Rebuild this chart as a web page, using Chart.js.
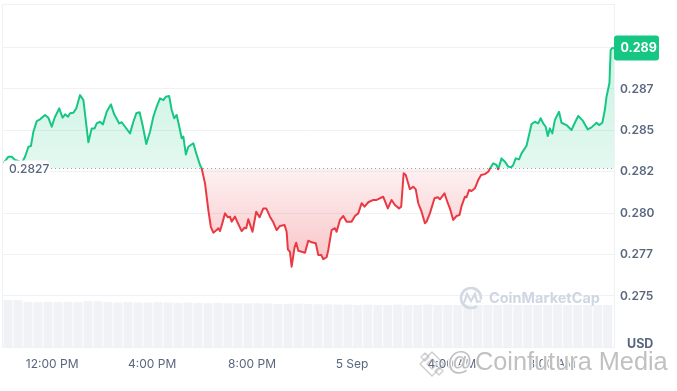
<!DOCTYPE html>
<html>
<head>
<meta charset="utf-8">
<script src="https://cdn.jsdelivr.net/npm/chart.js@4.4.0/dist/chart.umd.min.js"></script>
<style>
  html, body { margin: 0; padding: 0; background: #fff; }
  canvas { display: block; }
</style>
</head>
<body>
<canvas id="chart" width="677" height="391"></canvas>
<script>
// time in minutes from 12:00 PM (4 Sep), price in USD
const minutes = [
  -117, -105, -97, -89, -81, -73, -65, -57, -51, -45,
  -37, -29, -17, -9, -1, 6, 17, 25, 31, 38,
  43, 51, 58, 67, 75, 87, 95, 102, 107, 115,
  122, 131, 141, 149, 161, 167, 175, 187, 195, 202,
  210, 218, 226, 235, 243, 251, 259, 267, 273, 281,
  287, 293, 299, 307, 311, 315, 321, 327, 339, 346,
  355, 359, 367, 375, 381, 387, 395, 399, 403, 409,
  415, 422, 427, 431, 439, 446, 455, 462, 466, 471,
  481, 490, 498, 507, 514, 523, 531, 539, 547, 558,
  563, 566, 571, 575, 582, 586, 591, 599, 607, 615,
  623, 633, 639, 646, 651, 659, 663, 671, 679, 683,
  691, 699, 707, 719, 727, 735, 743, 750, 759, 771,
  779, 787, 795, 806, 815, 823, 833, 838, 844, 849,
  859, 867, 873, 879, 887, 895, 899, 907, 918, 926,
  931, 942, 950, 955, 963, 971, 978, 983, 991, 995,
  1001, 1007, 1015, 1023, 1030, 1039, 1047, 1053, 1059, 1067,
  1071, 1079, 1087, 1095, 1102, 1107, 1113, 1121, 1127, 1139,
  1145, 1151, 1159, 1167, 1173, 1179, 1185, 1190, 1195, 1201,
  1207, 1217, 1223, 1235, 1247, 1255, 1263, 1273, 1286, 1295,
  1307, 1313, 1321, 1327, 1331, 1338, 1341, 1344, 1349
];
const prices = [
  0.28301, 0.28341, 0.28341, 0.28321, 0.28315, 0.28303, 0.28341, 0.28401, 0.28405, 0.28492,
  0.28556, 0.28567, 0.28593, 0.28576, 0.28522, 0.28576, 0.28633, 0.28576, 0.28597, 0.28582,
  0.28603, 0.28606, 0.28633, 0.28713, 0.28683, 0.28428, 0.28512, 0.28512, 0.28542, 0.28552,
  0.28536, 0.28612, 0.28657, 0.28597, 0.28542, 0.28549, 0.28522, 0.28482, 0.28552, 0.28603,
  0.28609, 0.28522, 0.28418, 0.28492, 0.28582, 0.28643, 0.28693, 0.28683, 0.28703, 0.28707,
  0.28623, 0.28573, 0.28593, 0.28502, 0.28452, 0.28462, 0.28355, 0.28401, 0.28422, 0.28361,
  0.28291, 0.28271, 0.28180, 0.28019, 0.27918, 0.27882, 0.27898, 0.27909, 0.27892, 0.27943,
  0.27999, 0.27975, 0.27979, 0.27949, 0.27979, 0.27939, 0.27892, 0.27912, 0.27909, 0.27963,
  0.27888, 0.28009, 0.27975, 0.28029, 0.28029, 0.27979, 0.27945, 0.27898, 0.27923, 0.27929,
  0.27888, 0.27782, 0.27767, 0.27677, 0.27794, 0.27822, 0.27773, 0.27767, 0.27761, 0.27834,
  0.27824, 0.27818, 0.27748, 0.27748, 0.27722, 0.27734, 0.27778, 0.27898, 0.27909, 0.27888,
  0.27959, 0.27983, 0.27949, 0.27949, 0.27983, 0.27999, 0.28060, 0.28039, 0.28066, 0.28080,
  0.28080, 0.28090, 0.28099, 0.28029, 0.28080, 0.28049, 0.28029, 0.28039, 0.28241, 0.28230,
  0.28144, 0.28160, 0.28144, 0.28060, 0.28009, 0.27939, 0.27949, 0.27999, 0.28090, 0.28096,
  0.28084, 0.28120, 0.28060, 0.28029, 0.27959, 0.27983, 0.27989, 0.28043, 0.28099, 0.28096,
  0.28140, 0.28134, 0.28150, 0.28200, 0.28230, 0.28236, 0.28250, 0.28277, 0.28301, 0.28291,
  0.28265, 0.28331, 0.28311, 0.28281, 0.28277, 0.28291, 0.28331, 0.28325, 0.28361, 0.28407,
  0.28472, 0.28538, 0.28552, 0.28542, 0.28573, 0.28542, 0.28522, 0.28466, 0.28512, 0.28482,
  0.28562, 0.28612, 0.28546, 0.28532, 0.28502, 0.28546, 0.28587, 0.28562, 0.28506, 0.28518,
  0.28546, 0.28532, 0.28546, 0.28623, 0.28703, 0.28784, 0.28985, 0.28996, 0.28998
];
// volume, one bar every 24 min
const volumes = [
  13.7, 13.7, 13.2, 13.1, 13.2, 13.1, 13.2, 13.1, 13.4, 13.4,
  13.1, 13.0, 13.1, 13.0, 13.0, 13.1, 13.0, 12.9, 13.0, 12.9,
  12.8, 12.9, 12.8, 12.8, 12.7, 12.8, 12.7, 12.6, 12.6, 12.7,
  12.6, 12.5, 12.5, 12.4, 12.4, 12.3, 12.4, 12.3, 12.3, 12.4,
  12.3, 12.3, 12.4, 12.3, 12.3, 12.3, 12.4, 12.3, 12.3, 12.3,
  12.4, 12.3, 12.3, 12.3, 12.3, 12.4, 12.3, 12.3, 12.3, 12.3,
  12.3
];
const volMinutes = volumes.map((_, i) => -106 + i * 24);
const basePrice = 0.2827;

const xTickValues = [0, 240, 480, 720, 960, 1200];
const xTickLabels = ["12:00 PM", "4:00 PM", "8:00 PM", "5 Sep", "4:00 AM", "8:00 AM"];
const yTickValues = [0.275, 0.2775, 0.28, 0.2825, 0.285, 0.2875, 0.29];
const yTickLabels = ["0.275", "0.277", "0.280", "0.282", "0.285", "0.287", "0.290"];

const GREEN = "#16c784";
const RED = "#ea3943";
const TEXT = "#58667e";
const GRID = "#eff2f5";

Chart.defaults.font.family = 'Inter, "Noto Sans", sans-serif';

function lineColor(ctx) {
  const chart = ctx.chart;
  const area = chart.chartArea;
  if (!area) return GREEN;
  const yb = chart.scales.y.getPixelForValue(basePrice);
  const s = (yb - area.top) / (area.bottom - area.top);
  const g = chart.ctx.createLinearGradient(0, area.top, 0, area.bottom);
  g.addColorStop(0, GREEN);
  g.addColorStop(s, GREEN);
  g.addColorStop(s, RED);
  g.addColorStop(1, RED);
  return g;
}

function fillFor(ctx) {
  const chart = ctx.chart;
  const area = chart.chartArea;
  if (!area) {
    return { target: { value: basePrice }, above: "rgba(22,199,132,0.16)", below: "rgba(234,57,67,0.16)" };
  }
  const y = chart.scales.y;
  const yb = y.getPixelForValue(basePrice);
  const g = chart.ctx.createLinearGradient(0, y.getPixelForValue(0.29), 0, yb);
  g.addColorStop(0, "rgba(22,199,132,0.22)");
  g.addColorStop(1, "rgba(22,199,132,0.12)");
  const r = chart.ctx.createLinearGradient(0, yb, 0, y.getPixelForValue(0.2768));
  r.addColorStop(0, "rgba(234,57,67,0.07)");
  r.addColorStop(1, "rgba(234,57,67,0.30)");
  return { target: { value: basePrice }, above: g, below: r };
}

const overlay = {
  id: "overlay",
  beforeDatasetsDraw(chart) {
    const { ctx, chartArea: a } = chart;
    ctx.save();
    ctx.strokeStyle = GRID;
    ctx.lineWidth = 1;
    ctx.strokeRect(a.left - 0.5, a.top - 0.5, a.right - a.left + 1, a.bottom - a.top + 1);
    ctx.restore();
  },
  afterDatasetsDraw(chart) {
    const { ctx, chartArea: a, scales } = chart;
    ctx.save();

    // CoinMarketCap watermark
    ctx.strokeStyle = "#d3d9e4";
    ctx.lineWidth = 2.6;
    ctx.beginPath();
    ctx.arc(471, 298, 10, 0.3 * Math.PI, 2.05 * Math.PI);
    ctx.stroke();
    ctx.lineWidth = 2.2;
    ctx.beginPath();
    ctx.moveTo(464, 303);
    ctx.lineTo(467, 294);
    ctx.lineTo(471, 301);
    ctx.lineTo(475, 294);
    ctx.lineTo(477, 302);
    ctx.lineTo(481, 301);
    ctx.stroke();
    ctx.fillStyle = "#cfd6e3";
    ctx.font = 'bold 14.5px Inter, "Noto Sans", sans-serif';
    ctx.textBaseline = "middle";
    ctx.textAlign = "left";
    ctx.fillText("CoinMarketCap", 489, 299);

    // dotted baseline
    const yb = Math.round(scales.y.getPixelForValue(basePrice)) + 0.5;
    ctx.strokeStyle = "#9aa1ad";
    ctx.lineWidth = 1;
    ctx.setLineDash([1, 3]);
    ctx.beginPath();
    ctx.moveTo(a.left, yb);
    ctx.lineTo(a.right, yb);
    ctx.stroke();
    ctx.setLineDash([]);

    // base price label
    ctx.fillStyle = "#fff";
    ctx.beginPath();
    ctx.roundRect(a.left, yb - 8, 47, 16, 4);
    ctx.fill();
    ctx.fillStyle = TEXT;
    ctx.font = '500 12px Inter, "Noto Sans", sans-serif';
    ctx.fillText(basePrice.toFixed(4), a.left + 6, yb + 0.5);

    // current price box
    const last = prices[prices.length - 1];
    const yl = scales.y.getPixelForValue(last);
    ctx.fillStyle = GREEN;
    ctx.beginPath();
    ctx.roundRect(a.right, yl - 12.5, 45, 25, 3);
    ctx.fill();
    ctx.fillStyle = "#fff";
    ctx.font = 'bold 12.5px Inter, "Noto Sans", sans-serif';
    ctx.fillText((Math.floor(last * 1000) / 1000).toFixed(3), a.right + 6.5, yl + 0.5);
    ctx.restore();
  },
  afterDraw(chart) {
    const { ctx } = chart;
    ctx.save();
    ctx.fillStyle = TEXT;
    ctx.font = 'bold 12.5px Inter, "Noto Sans", sans-serif';
    ctx.textBaseline = "middle";
    ctx.textAlign = "left";
    ctx.fillText("USD", 627, 344.5);

    // Coinfutura watermark
    ctx.strokeStyle = "rgba(255,255,255,0.95)";
    ctx.fillStyle = "rgba(150,150,150,0.6)";
    ctx.lineWidth = 2.5;
    ctx.lineJoin = "round";
    ctx.font = '24px "Liberation Sans", Arial, sans-serif';
    const w = ctx.measureText("Coinfutura Media").width;
    const size = 24 * 193 / w;
    ctx.font = size.toFixed(1) + 'px "Liberation Sans", Arial, sans-serif';
    ctx.strokeText("@", 447, 363);
    ctx.fillText("@", 447, 363);
    ctx.strokeText("Coinfutura Media", 475, 363);
    ctx.fillText("Coinfutura Media", 475, 363);

    // diamond logo
    ctx.strokeStyle = "rgba(170,170,170,0.55)";
    ctx.lineWidth = 1.5;
    const d = (cx, cy, r) => {
      ctx.beginPath();
      ctx.moveTo(cx, cy - r);
      ctx.lineTo(cx + r, cy);
      ctx.lineTo(cx, cy + r);
      ctx.lineTo(cx - r, cy);
      ctx.closePath();
      ctx.stroke();
    };
    d(432, 364, 12);
    d(432, 364, 5);
    d(425, 357, 4);
    d(439, 371, 4);
    ctx.restore();
  }
};

new Chart(document.getElementById("chart"), {
  type: "line",
  data: {
    datasets: [
      {
        type: "line",
        data: prices.map((p, i) => ({ x: minutes[i], y: p })),
        yAxisID: "y",
        borderColor: lineColor,
        borderWidth: 2,
        borderJoinStyle: "round",
        pointRadius: 0,
        tension: 0,
        fill: fillFor,
        order: 1
      },
      {
        type: "bar",
        data: volumes.map((v, i) => ({ x: volMinutes[i], y: v })),
        yAxisID: "yv",
        backgroundColor: "#f0f2f5",
        barPercentage: 0.9,
        categoryPercentage: 1,
        order: 2
      }
    ]
  },
  options: {
    responsive: false,
    animation: false,
    layout: { padding: { left: 3, top: 5, right: 0, bottom: 0 } },
    plugins: { legend: { display: false }, tooltip: { enabled: false } },
    scales: {
      x: {
        type: "linear",
        min: -118,
        max: 1349,
        offset: false,
        grid: { display: false, drawTicks: false, offset: false },
        border: { display: false },
        afterBuildTicks: (s) => { s.ticks = xTickValues.map((v) => ({ value: v })); },
        ticks: {
          callback: (v, i) => xTickLabels[i],
          color: TEXT,
          font: { size: 12 },
          padding: 10,
          maxRotation: 0,
          autoSkip: false
        },
        afterFit: (s) => { s.height = 44; s.paddingLeft = 0; s.paddingRight = 0; }
      },
      y: {
        position: "right",
        min: 0.27192,
        max: 0.29257,
        grid: { color: GRID, drawTicks: false },
        border: { display: false },
        afterBuildTicks: (s) => { s.ticks = yTickValues.map((v) => ({ value: v })); },
        ticks: {
          callback: (v, i) => yTickLabels[i],
          color: TEXT,
          font: { size: 12, weight: "600" },
          padding: 6
        },
        afterFit: (s) => { s.width = 63; s.paddingTop = 0; s.paddingBottom = 0; }
      },
      yv: { display: false, min: 0, max: 100 }
    }
  },
  plugins: [overlay]
});
</script>
</body>
</html>
